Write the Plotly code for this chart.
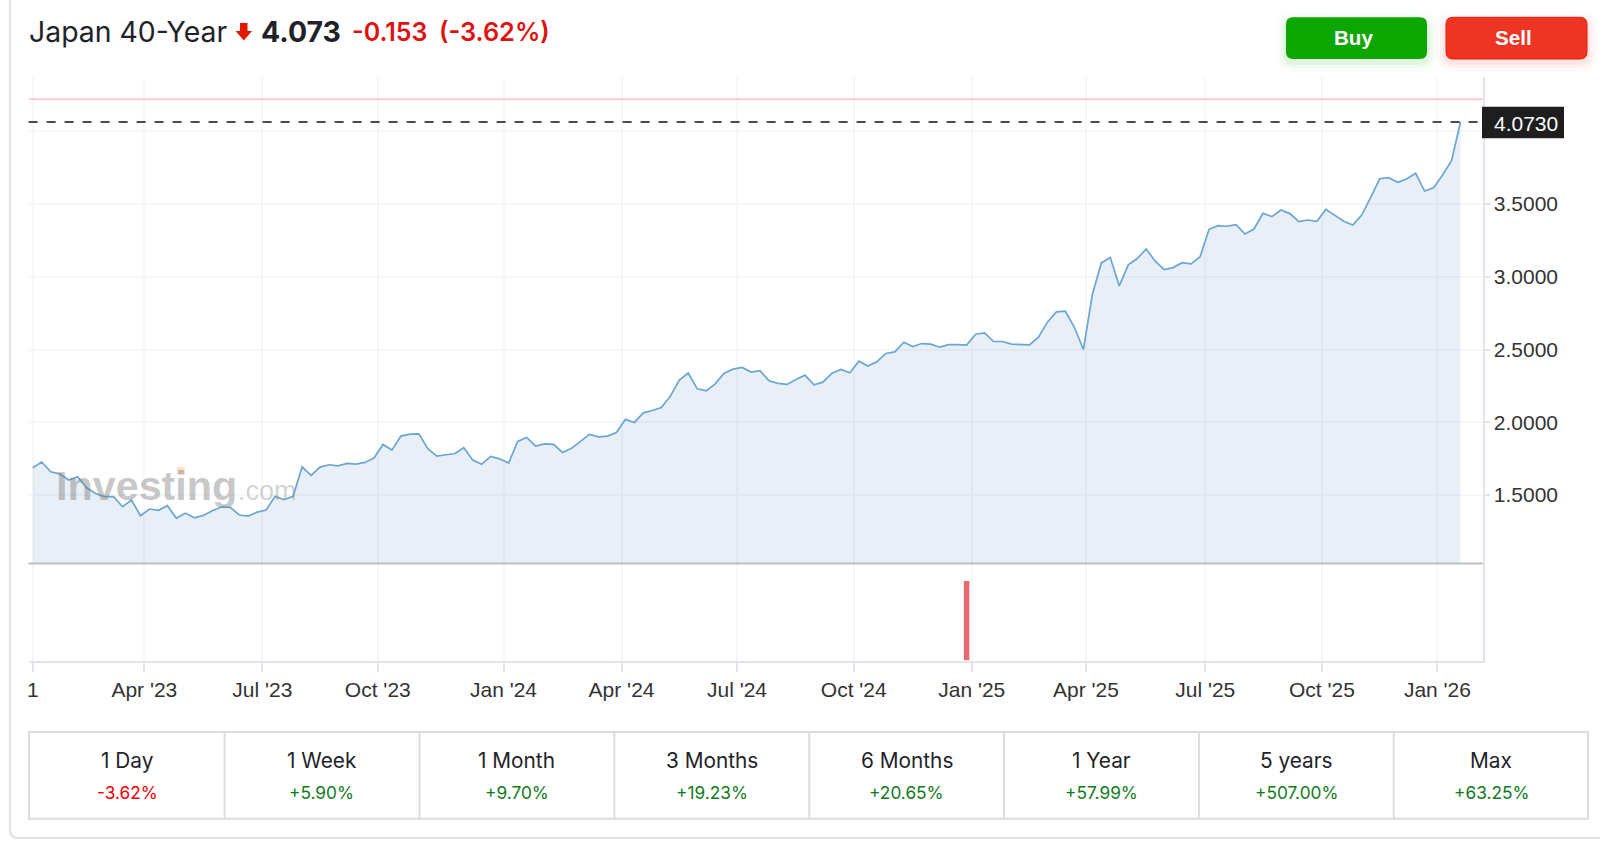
# -*- coding: utf-8 -*-
"""Japan 40-Year yield, weekly chart with header and performance strip."""

import pandas as pd
import plotly.graph_objects as go

W, H = 1600, 844

# weekly closes
yields = [
    1.688, 1.727, 1.660, 1.646, 1.603, 1.626, 1.550, 1.511, 1.489, 1.489,
    1.420, 1.466, 1.358, 1.404, 1.395, 1.427, 1.340, 1.376, 1.344, 1.360,
    1.392, 1.418, 1.416, 1.363, 1.356, 1.383, 1.397, 1.491, 1.468, 1.491,
    1.694, 1.635, 1.692, 1.708, 1.701, 1.717, 1.713, 1.724, 1.754, 1.848,
    1.809, 1.905, 1.919, 1.921, 1.818, 1.768, 1.777, 1.784, 1.825, 1.740,
    1.711, 1.766, 1.749, 1.720, 1.869, 1.896, 1.837, 1.852, 1.848, 1.793,
    1.821, 1.869, 1.917, 1.900, 1.905, 1.930, 2.020, 1.999, 2.065, 2.081,
    2.102, 2.178, 2.290, 2.338, 2.230, 2.216, 2.264, 2.338, 2.365, 2.377,
    2.345, 2.354, 2.285, 2.267, 2.260, 2.294, 2.324, 2.258, 2.276, 2.337,
    2.363, 2.340, 2.420, 2.386, 2.415, 2.473, 2.484, 2.550, 2.521, 2.541,
    2.537, 2.516, 2.534, 2.534, 2.530, 2.605, 2.614, 2.555, 2.555, 2.537,
    2.534, 2.532, 2.585, 2.688, 2.759, 2.763, 2.653, 2.500, 2.878, 3.095,
    3.132, 2.937, 3.082, 3.125, 3.191, 3.107, 3.049, 3.063, 3.097, 3.088,
    3.138, 3.326, 3.351, 3.347, 3.358, 3.294, 3.328, 3.436, 3.413, 3.459,
    3.434, 3.379, 3.390, 3.381, 3.463, 3.420, 3.381, 3.356, 3.424, 3.546,
    3.674, 3.681, 3.649, 3.672, 3.711, 3.589, 3.612, 3.699, 3.797, 4.063,
]
week_dates = pd.date_range("2023-01-01", periods=len(yields), freq="7D")

# where the dashed and the red line sit on the axis
last_level = 4.063
prev_close = 4.221

volume_dates = ["2024-12-29"]
volume_values = [1.0]

tick_dates = [
    "2023-01-01", "2023-03-29", "2023-06-29", "2023-09-27", "2024-01-03",
    "2024-04-04", "2024-07-03", "2024-10-02", "2025-01-02", "2025-04-01",
    "2025-07-03", "2025-10-02", "2025-12-31",
]
tick_labels = [
    "1", "Apr '23", "Jul '23", "Oct '23", "Jan '24", "Apr '24", "Jul '24",
    "Oct '24", "Jan '25", "Apr '25", "Jul '25", "Oct '25", "Jan '26",
]
y_ticks = [1.5, 2.0, 2.5, 3.0, 3.5, 4.0]
# the 4.0000 label sits behind the price tag
y_labels = ["1.5000", "2.0000", "2.5000", "3.0000", "3.5000", ""]

periods = ["1 Day", "1 Week", "1 Month", "3 Months", "6 Months", "1 Year", "5 years", "Max"]
changes = ["-3.62%", "+5.90%", "+9.70%", "+19.23%", "+20.65%", "+57.99%", "+507.00%", "+63.25%"]

SANS = "Liberation Sans"
GRID = "#f6f7f9"
EDGE = "#e2e5ec"
RED = "#e0120f"
GREEN = "#127a1e"


def fx(px):
    # small calibration, left side of the page came out 2px too far right
    return (px * 1.00125 - 2) / W


def fy(py):
    return 1 - py / H


def round_rect(x0, y0, x1, y1, r):
    """SVG path of a rounded rectangle, in paper coordinates."""
    x = lambda v: f"{fx(v):.5f}"
    y = lambda v: f"{fy(v):.5f}"
    return (
        f"M {x(x0 + r)} {y(y0)} L {x(x1 - r)} {y(y0)} Q {x(x1)} {y(y0)} {x(x1)} {y(y0 + r)} "
        f"L {x(x1)} {y(y1 - r)} Q {x(x1)} {y(y1)} {x(x1 - r)} {y(y1)} "
        f"L {x(x0 + r)} {y(y1)} Q {x(x0)} {y(y1)} {x(x0)} {y(y1 - r)} "
        f"L {x(x0)} {y(y0 + r)} Q {x(x0)} {y(y0)} {x(x0 + r)} {y(y0)} Z"
    )


def path_shape(path, fill=None, line=None, width=0, layer="above"):
    return dict(type="path", path=path, xref="paper", yref="paper", layer=layer,
                fillcolor=fill or "rgba(0,0,0,0)",
                line=dict(color=line or "rgba(0,0,0,0)", width=width))


def rect_line(x0, y0, x1, y1, color, width=2):
    return dict(type="line", xref="paper", yref="paper", layer="above",
                x0=fx(x0), y0=fy(y0), x1=fx(x1), y1=fy(y1),
                line=dict(color=color, width=width))


def label(px, py, text, size, color, family="Inter", weight=400, anchor="left"):
    return dict(xref="paper", yref="paper", x=fx(px), y=fy(py), text=text, showarrow=False,
                xanchor=anchor, yanchor="middle", borderpad=0, borderwidth=0,
                font=dict(family=family, size=size, color=color, weight=weight))


fig = go.Figure()
fig.add_trace(go.Scatter(
    x=week_dates, y=yields, mode="lines", xaxis="x", yaxis="y",
    line=dict(color="#6ba6d3", width=1.7),
    fill="tozeroy", fillcolor="rgba(15,80,160,0.095)",
))
fig.add_trace(go.Bar(
    x=volume_dates, y=volume_values, xaxis="x", yaxis="y2",
    marker=dict(color="#e96a70", line=dict(width=0)),
    width=4.3 * 24 * 3600 * 1000,
))

shapes = [
    # reference lines
    dict(type="line", xref="x domain", yref="y", x0=0, x1=1, y0=prev_close, y1=prev_close,
         line=dict(color="#ffb4b4", width=1.2)),
    dict(type="line", xref="x domain", yref="y", x0=0, x1=1, y0=last_level, y1=last_level,
         line=dict(color="#111111", width=1.4, dash="9px,9px")),
    # panel divider
    rect_line(28.6, 563.6, 1482.6, 563.6, "#bcbfc5", 2),
    # last price tag
    dict(type="rect", xref="paper", yref="paper", x0=fx(1482), x1=fx(1564), y0=fy(106.7), y1=fy(138.3),
         fillcolor="#1e1e1e", line=dict(width=0)),
    # card border
    path_shape(f"M {fx(10)} {fy(0)} L {fx(10)} {fy(830)} Q {fx(10)} {fy(838)} {fx(18)} {fy(838)} L {fx(1600)} {fy(838)}",
               line="#e2e3e7", width=2.2),
    # arrow in the header
    path_shape(f"M {fx(240)} {fy(23)} L {fx(247.5)} {fy(23)} L {fx(247.5)} {fy(31)} L {fx(252)} {fy(31)} "
               f"L {fx(243.8)} {fy(40.5)} L {fx(235.6)} {fy(31)} L {fx(240)} {fy(31)} Z", fill="#e01a00"),
    # strip of periods
    dict(type="rect", xref="paper", yref="paper", x0=fx(29), x1=fx(1588), y0=fy(732), y1=fy(818.7),
         line=dict(color="#dcdde2", width=2)),
    # orange dot of the watermark
    path_shape(round_rect(177, 467, 185, 475, 1), fill="rgba(250,190,130,0.45)"),
]

# soft button shadows, then the buttons
for grow, alpha in [(10, 0.025), (6, 0.04), (3, 0.06)]:
    shapes.append(path_shape(round_rect(1286 - grow, 22 - grow, 1427 + grow, 62 + grow, 8 + grow),
                             fill=f"rgba(14,166,0,{alpha})"))
    shapes.append(path_shape(round_rect(1446 - grow, 22 - grow, 1587 + grow, 62 + grow, 8 + grow),
                             fill=f"rgba(238,53,36,{alpha})"))
shapes.append(path_shape(round_rect(1286, 17.3, 1427, 59, 7), fill="#0ea600"))
shapes.append(path_shape(round_rect(1446, 17.3, 1587, 59, 7), fill="#ee3524", line="#f01808", width=1))

annotations = [
    label(29, 32, "Japan 40-Year", 28.4, "#1f2329"),
    label(261, 32, "4.073", 28.4, "#1f2329", weight=700),
    label(352, 32, "-0.153", 25, RED, weight=600),
    label(439, 32, "(-3.62%)", 25.3, RED, weight=600),
    label(1353, 38, "Buy", 20.6, "#ffffff", family=SANS, weight=700, anchor="center"),
    label(1513, 38, "Sell", 20.6, "#ffffff", family=SANS, weight=700, anchor="center"),
    label(1494, 124, "4.0730", 21, "#ffffff", family=SANS),
    label(56, 486, "Investing", 41.3, "rgba(120,120,120,0.42)", family=SANS, weight=700),
    label(238, 491, ".com", 27, "rgba(140,140,140,0.38)", family=SANS),
]

for i, (period, change) in enumerate(zip(periods, changes)):
    center = 127.1 + 194.85 * i
    if i:
        shapes.append(rect_line(29.8 + 194.85 * i, 732, 29.8 + 194.85 * i, 818.7, "#dcdde2", 2))
    annotations.append(label(center, 760, period, 20.8, "#1f2329", anchor="center"))
    annotations.append(label(center, 792, change, 17.3, "#f00000" if change[0] == "-" else GREEN, anchor="center"))

fig.update_layout(
    width=W, height=H,
    margin=dict(l=0, r=0, t=0, b=0),
    autosize=False,
    paper_bgcolor="#ffffff", plot_bgcolor="#ffffff",
    showlegend=False,
    font=dict(family=SANS, size=21, color="#333333"),
    xaxis=dict(
        domain=[fx(28.6), fx(1482.6)], anchor="y2", type="date",
        range=["2022-12-28 19:00", "2026-02-04 05:00"],
        tickmode="array", tickvals=tick_dates, ticktext=tick_labels,
        ticks="outside", ticklen=9, tickcolor=EDGE, tickwidth=2,
        showgrid=True, gridcolor=GRID, gridwidth=1.5,
        showline=True, linecolor=EDGE, linewidth=2,
        zeroline=False,
    ),
    yaxis=dict(
        domain=[fy(563.6), fy(77)], anchor="x", side="right",
        range=[1.029, 4.3726],
        tickmode="array", tickvals=y_ticks, ticktext=y_labels,
        ticks="outside", ticklen=5, tickcolor=EDGE, tickwidth=2,
        showgrid=True, gridcolor=GRID, gridwidth=1.5,
        showline=True, linecolor=EDGE, linewidth=2,
        zeroline=False,
    ),
    yaxis2=dict(
        domain=[fy(660.5), fy(563.6)], anchor="x", side="right",
        range=[0, 1.22], showticklabels=False, ticks="",
        showgrid=False, zeroline=False,
        showline=True, linecolor=EDGE, linewidth=2,
    ),
    shapes=shapes,
    annotations=annotations,
)

fig.write_html("out.html", config={"displayModeBar": False},
               post_script="document.body.style.margin='0';")
